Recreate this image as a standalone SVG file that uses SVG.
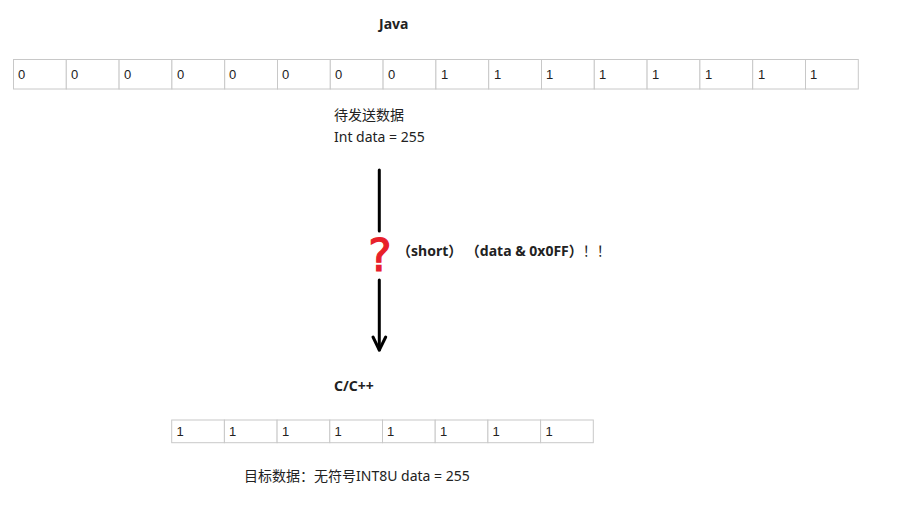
<svg xmlns="http://www.w3.org/2000/svg" width="897" height="512" viewBox="0 0 897 512">
<style>
.cell{fill:#fff;stroke:#c8c8c8;stroke-width:1}
.dig{font-family:"Liberation Sans",Arial,sans-serif;font-size:13px;fill:#222}
.t{font-family:"Noto Sans","Noto Sans CJK SC",sans-serif;font-size:14px;fill:#222}
.b{font-weight:bold}
.ln{stroke:#000;stroke-width:3;fill:none;stroke-linecap:round;stroke-linejoin:round}
</style>
<rect width="897" height="512" fill="#fff"/>
<g id="title-java"><text class="t b" x="379" y="29" font-size="15">Java</text></g>
<g id="java-bits">
<rect class="cell" x="13.5" y="59.5" width="52.8" height="29.5"/>
<rect class="cell" x="66.3" y="59.5" width="52.8" height="29.5"/>
<rect class="cell" x="119.1" y="59.5" width="52.8" height="29.5"/>
<rect class="cell" x="171.9" y="59.5" width="52.8" height="29.5"/>
<rect class="cell" x="224.7" y="59.5" width="52.8" height="29.5"/>
<rect class="cell" x="277.5" y="59.5" width="52.8" height="29.5"/>
<rect class="cell" x="330.3" y="59.5" width="52.8" height="29.5"/>
<rect class="cell" x="383.1" y="59.5" width="52.8" height="29.5"/>
<rect class="cell" x="435.9" y="59.5" width="52.8" height="29.5"/>
<rect class="cell" x="488.7" y="59.5" width="52.8" height="29.5"/>
<rect class="cell" x="541.5" y="59.5" width="52.8" height="29.5"/>
<rect class="cell" x="594.3" y="59.5" width="52.8" height="29.5"/>
<rect class="cell" x="647.1" y="59.5" width="52.8" height="29.5"/>
<rect class="cell" x="699.9" y="59.5" width="52.8" height="29.5"/>
<rect class="cell" x="752.7" y="59.5" width="52.8" height="29.5"/>
<rect class="cell" x="805.5" y="59.5" width="52.8" height="29.5"/>
<text class="dig" x="18" y="79">0</text>
<text class="dig" x="71" y="79">0</text>
<text class="dig" x="124" y="79">0</text>
<text class="dig" x="177" y="79">0</text>
<text class="dig" x="229" y="79">0</text>
<text class="dig" x="282" y="79">0</text>
<text class="dig" x="335" y="79">0</text>
<text class="dig" x="388" y="79">0</text>
<text class="dig" x="441" y="79">1</text>
<text class="dig" x="494" y="79">1</text>
<text class="dig" x="546" y="79">1</text>
<text class="dig" x="599" y="79">1</text>
<text class="dig" x="652" y="79">1</text>
<text class="dig" x="705" y="79">1</text>
<text class="dig" x="758" y="79">1</text>
<text class="dig" x="810" y="79">1</text>
</g>
<g id="send-label">
<text class="t" x="334" y="120" font-size="13">待发送数据</text>
<text class="t" x="334" y="142" font-size="14.4">Int data = 255</text>
</g>
<g id="connectors">
<line class="ln" x1="379.3" y1="170" x2="379.3" y2="231"/>
<line class="ln" x1="379.3" y1="280" x2="379.3" y2="350"/>
<polyline class="ln" points="373,337 379.3,350 385.7,337"/>
</g>
<g id="question"><text x="380" y="271" text-anchor="middle" font-family="DejaVu Sans, sans-serif" font-size="44" fill="#e8202a" stroke="#e8202a" stroke-width="1.2">?</text></g>
<g id="cast-label"><text class="t" x="397" y="256"><tspan class="b">（short）  （data &amp; 0x0FF）</tspan>！！</text></g>
<g id="title-c"><text class="t b" x="334" y="391" font-size="15">C/C++</text></g>
<g id="c-bits">
<rect class="cell" x="171.7" y="420" width="52.7" height="22.7"/>
<rect class="cell" x="224.4" y="420" width="52.7" height="22.7"/>
<rect class="cell" x="277.1" y="420" width="52.7" height="22.7"/>
<rect class="cell" x="329.8" y="420" width="52.7" height="22.7"/>
<rect class="cell" x="382.5" y="420" width="52.7" height="22.7"/>
<rect class="cell" x="435.2" y="420" width="52.7" height="22.7"/>
<rect class="cell" x="487.9" y="420" width="52.7" height="22.7"/>
<rect class="cell" x="540.6" y="420" width="52.7" height="22.7"/>
<text class="dig" x="176.5" y="436">1</text>
<text class="dig" x="229" y="436">1</text>
<text class="dig" x="282" y="436">1</text>
<text class="dig" x="334.5" y="436">1</text>
<text class="dig" x="387" y="436">1</text>
<text class="dig" x="440" y="436">1</text>
<text class="dig" x="492.5" y="436">1</text>
<text class="dig" x="545.5" y="436">1</text>
</g>
<g id="target-label"><text class="t" x="244" y="481">目标数据：无符号INT8U data = 255</text></g>
</svg>
